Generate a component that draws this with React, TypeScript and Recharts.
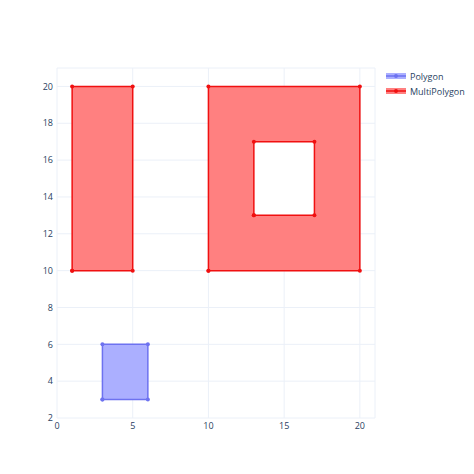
import { ScatterChart, Scatter, XAxis, YAxis, CartesianGrid } from "recharts";

// vertices (rings closed back to the first point)
const POLYGON_X = [3, 6, 6, 3, 3];
const POLYGON_Y = [3, 3, 6, 6, 3];

const MULTI_LEFT_X = [1, 5, 5, 1, 1];
const MULTI_LEFT_Y = [10, 10, 20, 20, 10];

const MULTI_OUTER_X = [10, 20, 20, 10, 10];
const MULTI_OUTER_Y = [10, 10, 20, 20, 10];

const MULTI_HOLE_X = [13, 17, 17, 13, 13];
const MULTI_HOLE_Y = [13, 13, 17, 17, 13];

const X_TICKS = [0, 5, 10, 15, 20];
const Y_TICKS = [2, 4, 6, 8, 10, 12, 14, 16, 18, 20];

const LEGEND_NAMES = ["Polygon", "MultiPolygon"];

const BLUE = { stroke: "#6d72f0", fill: "#abafff" };
const RED = { stroke: "#f01010", fill: "#ff8080" };

const TICK_STYLE = { fill: "#2a3f5f", fontSize: 9, fontFamily: "Open Sans" };

const ring = (xs: number[], ys: number[]) => xs.map((x, i) => ({ x, y: ys[i] }));

// closed, filled outline built from the scatter's own pixel points
const ringLine = (stroke: string, fill: string) => (props: any) => {
  const pts = props.points || [];
  if (!pts.length) return <g />;
  const d = pts.map((p: any, i: number) => `${i ? "L" : "M"}${p.x},${p.y}`).join(" ") + " Z";
  return <path d={d} fill={fill} stroke={stroke} strokeWidth={1.5} strokeLinejoin="round" />;
};

const dot = (color: string) => (props: any) => <circle cx={props.cx} cy={props.cy} r={2} fill={color} />;

// plotly-style legend, placed next to the plot
function PlotLegend() {
  const colors = [BLUE, RED];
  return (
    <svg width={90} height={34} style={{ position: "absolute", left: 384, top: 68 }}>
      {LEGEND_NAMES.map((name, i) => {
        const cy = 8 + i * 15;
        return (
          <g key={name}>
            <rect x={2} y={cy - 3} width={20} height={6} fill={colors[i].fill} />
            <line x1={2} x2={22} y1={cy} y2={cy} stroke={colors[i].stroke} strokeWidth={1.5} />
            <circle cx={12} cy={cy} r={2} fill={colors[i].stroke} />
            <text x={26} y={cy} dominantBaseline="central" {...TICK_STYLE}>
              {name}
            </text>
          </g>
        );
      })}
    </svg>
  );
}

export default function App() {
  return (
    <div style={{ position: "absolute", left: 0, top: 0, width: 474, height: 474, background: "#fff" }}>
      <ScatterChart width={474} height={474} margin={{ top: 68, right: 99, bottom: 36, left: 17 }}>
        <CartesianGrid stroke="#ebf0f8" strokeWidth={1} />
        <XAxis
          type="number"
          dataKey="x"
          domain={[0, 21]}
          ticks={X_TICKS}
          allowDataOverflow
          axisLine={false}
          tickLine={false}
          tickSize={0}
          tickMargin={5}
          height={20}
          tick={TICK_STYLE}
        />
        <YAxis
          type="number"
          dataKey="y"
          domain={[2, 21]}
          ticks={Y_TICKS}
          allowDataOverflow
          axisLine={false}
          tickLine={false}
          tickSize={0}
          tickMargin={4}
          width={40}
          tick={TICK_STYLE}
        />
        <Scatter
          name="Polygon"
          data={ring(POLYGON_X, POLYGON_Y)}
          line={ringLine(BLUE.stroke, BLUE.fill)}
          shape={dot(BLUE.stroke)}
          isAnimationActive={false}
        />
        <Scatter
          name="MultiPolygon"
          data={ring(MULTI_LEFT_X, MULTI_LEFT_Y)}
          line={ringLine(RED.stroke, RED.fill)}
          shape={dot(RED.stroke)}
          isAnimationActive={false}
        />
        <Scatter
          name="MultiPolygon outer"
          data={ring(MULTI_OUTER_X, MULTI_OUTER_Y)}
          line={ringLine(RED.stroke, RED.fill)}
          shape={dot(RED.stroke)}
          isAnimationActive={false}
        />
        <Scatter
          name="MultiPolygon hole"
          data={ring(MULTI_HOLE_X, MULTI_HOLE_Y)}
          line={ringLine(RED.stroke, "#ffffff")}
          shape={dot(RED.stroke)}
          isAnimationActive={false}
        />
      </ScatterChart>
      <PlotLegend />
    </div>
  );
}
